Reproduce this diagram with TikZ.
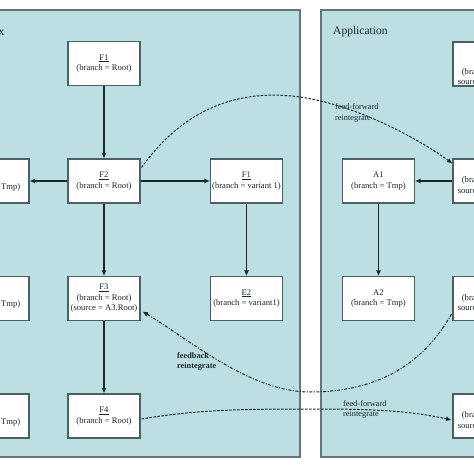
\documentclass[tikz,border=0pt]{standalone}
\usepackage{fontspec}
\setmainfont{Liberation Serif}
\usetikzlibrary{arrows.meta,calc}
\definecolor{panelfill}{HTML}{BCDFE3}
\definecolor{panelline}{HTML}{65767B}
\definecolor{boxline}{HTML}{4E5F63}
\definecolor{ink}{HTML}{1B2729}
\begin{document}
\begin{tikzpicture}[x=1pt,y=-1pt,
  panel/.style={fill=panelfill,draw=panelline,line width=1.3pt},
  box/.style={draw=boxline,fill=white,line width=1.1pt,minimum width=72pt,minimum height=44pt,inner sep=1pt,align=center,font=\fontsize{8.6}{10.5}\selectfont,text=ink},
  boxtext/.style={inner sep=0pt,align=center,font=\fontsize{8.6}{10.5}\selectfont,text=ink},
  flow/.style={draw=ink,line width=1.2pt,-{Latex[length=5.5pt,width=5pt]}},
  ffwd/.style={draw=ink,line width=1pt,dash pattern=on 2.5pt off 1.5pt,-{Latex[length=5.5pt,width=5pt]}},
  fback/.style={draw=ink,line width=1pt,dash pattern=on 3pt off 1.5pt on 1pt off 1.5pt,-{Latex[length=5.5pt,width=5pt]}},
  lbl/.style={font=\fontsize{8.3}{10.5}\selectfont,text=ink,align=left,inner sep=0pt,anchor=west},
  paneltitle/.style={font=\fontsize{11.5}{13}\selectfont,text=ink,inner sep=0pt}]
\useasboundingbox (0,0) rectangle (474,474);
\clip (0,0) rectangle (474,474);
\fill[white] (0,0) rectangle (474,474);
% panels
\draw[panel] (-10,10) rectangle (300,457);
\draw[panel] (321,10) rectangle (490,457);
\node[paneltitle,anchor=east] (ltitle) at (4.5,33) {x};
\node[paneltitle,anchor=west] (rtitle) at (333,32) {Application};
% main column
\node[box] (F1) at (104,63.5) {\underline{F1}\\(branch = Root)};
\node[box] (F2) at (104,181) {\underline{F2}\\(branch = Root)};
\node[box] (F3) at (104,298.5) {\underline{F3}\\(branch = Root)\\(source = A3.Root)};
\node[box] (F4) at (104,416) {\underline{F4}\\(branch = Root)};
% variant column
\node[box] (V1) at (246.5,181) {\underline{F1}\\(branch = variant 1)};
\node[box] (E2) at (246.5,298.5) {\underline{E2}\\(branch = variant1)};
% left (cut) column
\node[box] (L1) at (-7,181) {\strut\\(branch = Tmp)};
\node[box] (L2) at (-7,298.5) {\strut\\(branch = Tmp)};
\node[box] (L3) at (-7,416) {\strut\\(branch = Tmp)};
% application column
\node[box] (A1) at (378.5,181) {A1\\(branch = Tmp)};
\node[box] (A2) at (378.5,298.5) {A2\\(branch = Tmp)};
% right (cut) column
\node[box] (R1) at (489,64) {};
\node[boxtext] (R1t) at (489,72.5) {A3\\(branch = Root,\\source = F2.Root)};
\node[box] (R2) at (489,181) {A3\\(branch = Root,\\source = F2.Root)};
\node[box] (R3) at (489,298.5) {A3\\(branch = Root,\\source = F2.Root)};
\node[box] (R4) at (489,416) {A4\\(branch = Root,\\source = F4.Root)};
% solid flows
\draw[flow] (F1) -- (F2);
\draw[flow] (F2) -- (L1);
\draw[flow] (F2) -- (V1);
\draw[flow] (V1) -- (E2);
\draw[flow] (F2) -- (F3);
\draw[flow] (F3) -- (F4);
\draw[flow] (R2) -- (A1);
\draw[flow] (A1) -- (A2);
% feed-forward (top)
\draw[ffwd] ($(F2.north east)+(1,9)$) .. controls (190,100) and (250,90) .. (300,97)
  .. controls (360,106) and (420,140) .. ($(R2.north west)+(0,5)$);
\node[lbl] (ff1) at (335,113) {feed-forward\\reintegrate};
% feedback
\draw[fback] ($(R3.south west)+(-1,-7)$) .. controls (420,370) and (370,392) .. (310,392)
  .. controls (250,392) and (190,340) .. ($(F3.east)+(2,13)$);
\node[lbl,font=\fontsize{8.3}{10.5}\selectfont\bfseries] (fb) at (177,361.5) {feedback\\reintegrate};
% feed-forward (bottom)
\draw[ffwd] ($(F4.east)+(1,3)$) .. controls (200,409) and (250,409) .. (320,409)
  .. controls (390,409) and (420,413) .. ($(R4.west)+(-1,4)$);
\node[lbl] (ff2) at (343,409.5) {feed-forward\\reintegrate};
\end{tikzpicture}
\end{document}
